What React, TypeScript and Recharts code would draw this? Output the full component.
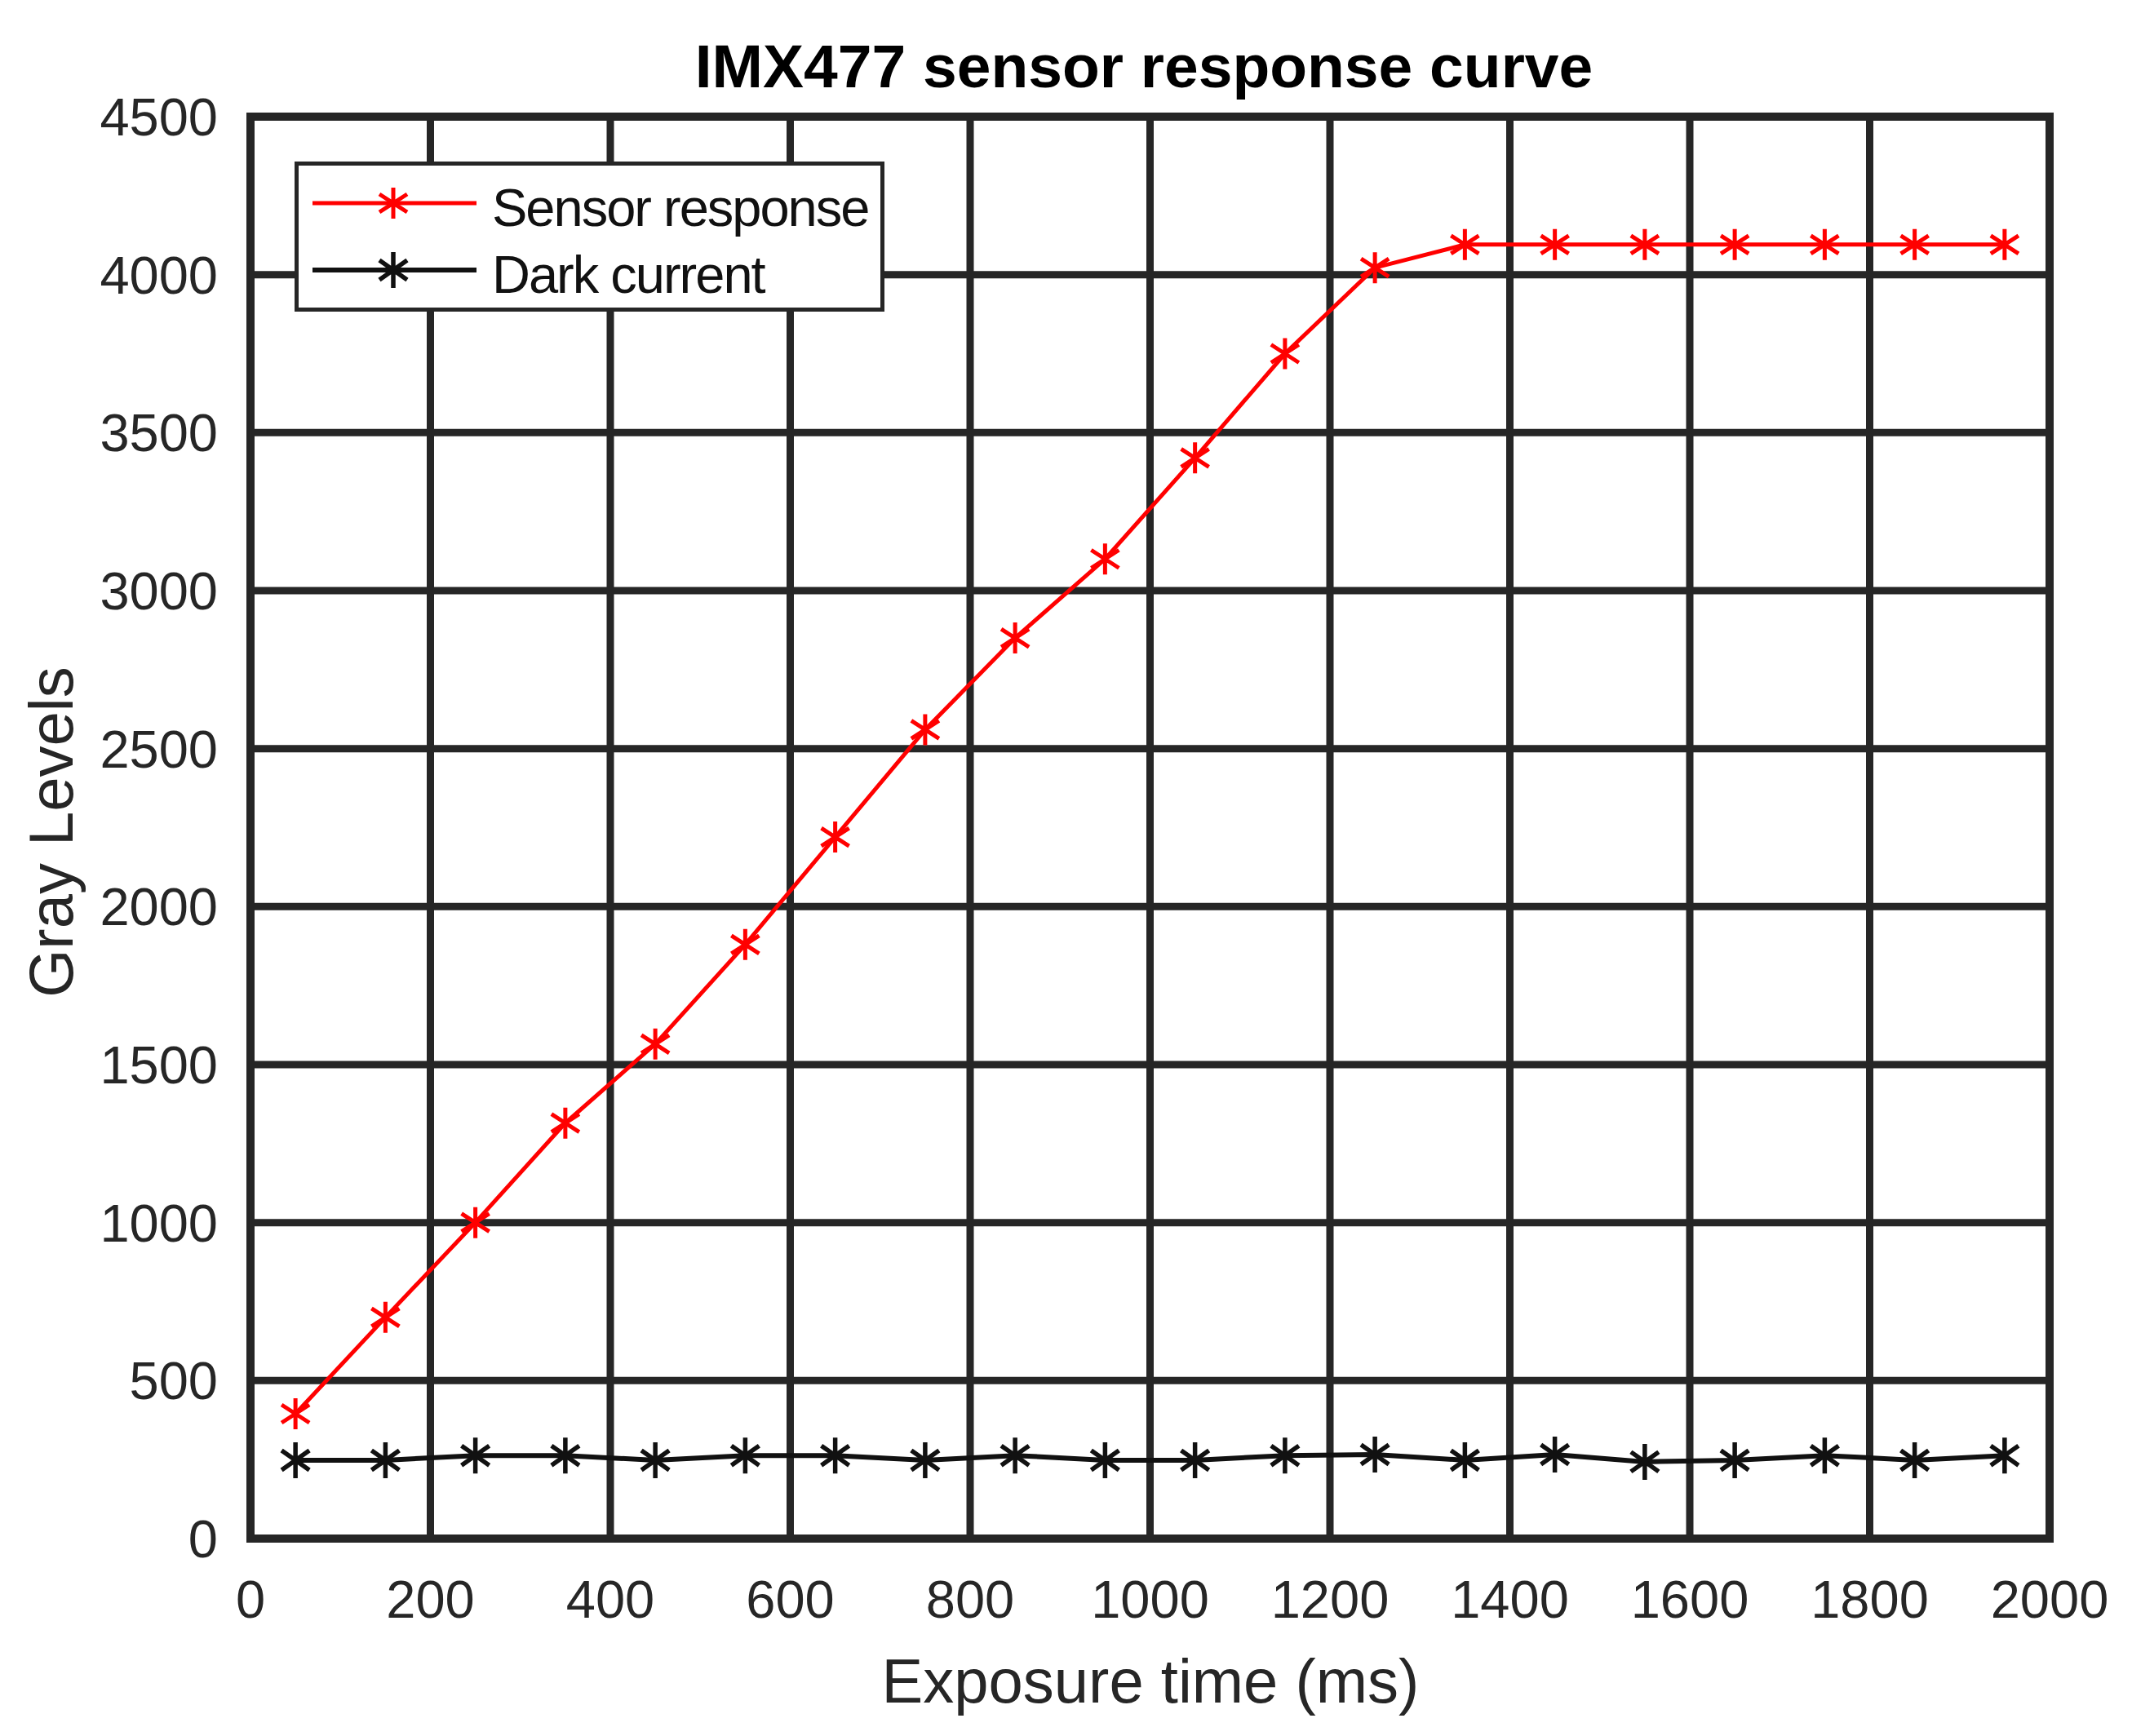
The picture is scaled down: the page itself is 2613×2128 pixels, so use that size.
import { LineChart, Line, XAxis, YAxis, CartesianGrid, Legend } from 'recharts'

// exposure time (ms) of each measurement
const exposureMs = [50, 150, 250, 350, 450, 550, 650, 750, 850, 950, 1050, 1150, 1250, 1350, 1450, 1550, 1650, 1750, 1850, 1950]
const sensorResponse = [395, 700, 1000, 1315, 1565, 1880, 2220, 2560, 2850, 3100, 3420, 3750, 4022, 4095, 4095, 4095, 4095, 4095, 4095, 4095]
const darkCurrent = [248, 248, 263, 263, 248, 263, 263, 248, 263, 248, 248, 263, 266, 248, 266, 243, 248, 263, 248, 263]

const xTicks = [0, 200, 400, 600, 800, 1000, 1200, 1400, 1600, 1800, 2000]
const yTicks = [0, 500, 1000, 1500, 2000, 2500, 3000, 3500, 4000, 4500]
const legendOrder = ['sensor', 'dark']

const data = exposureMs.map((t, i) => ({ t, sensor: sensorResponse[i], dark: darkCurrent[i] }))

const W = 2613
const H = 2128
const FONT = '"Liberation Sans", Arial, Helvetica, sans-serif'
const GRID = '#262626'
const TEXT = '#262626'
const RED = '#ff0000'

// plot box
const PL = 307
const PT = 143
const PR = 2512
const PB = 1886

type StarShape = { rv: number; dx: number; dy: number; sw: number }
const starStyles: Record<string, StarShape & { color: string; lw: number }> = {
  sensor: { color: RED, lw: 5, rv: 19, dx: 17, dy: 11, sw: 5 },
  dark: { color: '#111111', lw: 6, rv: 22, dx: 17, dy: 12, sw: 5.5 },
}

function starPath(cx: number, cy: number, s: StarShape) {
  return `M${cx},${cy - s.rv}L${cx},${cy + s.rv}` +
    `M${cx - s.dx},${cy - s.dy}L${cx + s.dx},${cy + s.dy}` +
    `M${cx - s.dx},${cy + s.dy}L${cx + s.dx},${cy - s.dy}`
}

function makeDot(key: string) {
  const st = starStyles[key]
  return (p: any) => {
    if (p.cx == null || p.cy == null) return <g key={`${key}-${p.index}`} />
    return (
      <path key={`${key}-${p.index}`} d={starPath(p.cx, p.cy, st)} stroke={st.color} strokeWidth={st.sw} fill="none" />
    )
  }
}

function LegendBox({ payload }: any) {
  const items = [...(payload || [])].sort(
    (a: any, b: any) => legendOrder.indexOf(a.dataKey) - legendOrder.indexOf(b.dataKey)
  )
  return (
    <svg width={723} height={184} style={{ display: 'block' }}>
      <rect x={2.5} y={2.5} width={718} height={179} fill="#fff" stroke={GRID} strokeWidth={5} />
      {items.map((it: any, i: number) => {
        const st = starStyles[it.dataKey]
        const y = 51 + i * 82
        return (
          <g key={it.value}>
            <line x1={22} x2={223} y1={y} y2={y} stroke={st.color} strokeWidth={st.lw} />
            <path d={starPath(121, y, st)} stroke={st.color} strokeWidth={st.sw} fill="none" />
            <text x={242} y={y + 28} fontSize={65} letterSpacing={-2} fontFamily={FONT} fill="#111">
              {it.value}
            </text>
          </g>
        )
      })}
    </svg>
  )
}

export default function App() {
  return (
    <div style={{ position: 'absolute', left: 0, top: 0, width: W, height: H, background: '#fff' }}>
      <LineChart
        width={W}
        height={H}
        data={data}
        margin={{ top: PT, right: W - PR, bottom: H - PB - 60, left: PL - 60 }}
      >
        <CartesianGrid stroke={GRID} strokeWidth={9} />
        <XAxis
          type="number"
          dataKey="t"
          domain={[0, 2000]}
          ticks={xTicks}
          height={60}
          axisLine={false}
          tickLine={false}
          tickSize={0}
          tickMargin={51}
          interval={0}
          tick={{ fill: TEXT, fontSize: 65, fontFamily: FONT }}
        />
        <YAxis
          type="number"
          domain={[0, 4500]}
          ticks={yTicks}
          width={60}
          axisLine={false}
          tickLine={false}
          tickSize={0}
          tickMargin={40}
          interval={0}
          tick={{ fill: TEXT, fontSize: 65, fontFamily: FONT }}
        />
        <Legend
          layout="vertical"
          align="center"
          verticalAlign="middle"
          wrapperStyle={{ position: 'absolute', left: 361, top: 198, width: 723, height: 184 }}
          content={(props: any) => <LegendBox payload={props.payload} />}
        />
        <Line
          type="linear"
          dataKey="sensor"
          name="Sensor response"
          stroke={RED}
          strokeWidth={5}
          dot={makeDot('sensor')}
          activeDot={false}
          isAnimationActive={false}
        />
        <Line
          type="linear"
          dataKey="dark"
          name="Dark current"
          stroke="#111111"
          strokeWidth={6}
          dot={makeDot('dark')}
          activeDot={false}
          isAnimationActive={false}
        />
      </LineChart>
      <svg
        width={W}
        height={H}
        style={{ position: 'absolute', left: 0, top: 0, pointerEvents: 'none' }}
      >
        <rect x={PL} y={PT} width={PR - PL} height={PB - PT} fill="none" stroke={GRID} strokeWidth={10} />
        <text x={1402} y={107} textAnchor="middle" fontSize={75} fontWeight="bold" fontFamily={FONT} fill="#000">
          IMX477 sensor response curve
        </text>
        <text x={1410} y={2087} textAnchor="middle" fontSize={76} fontFamily={FONT} fill={TEXT}>
          Exposure time (ms)
        </text>
        <text
          x={0}
          y={0}
          transform="translate(89,1020) rotate(-90)"
          textAnchor="middle"
          fontSize={76}
          fontFamily={FONT}
          fill={TEXT}
        >
          Gray Levels
        </text>
      </svg>
    </div>
  )
}
